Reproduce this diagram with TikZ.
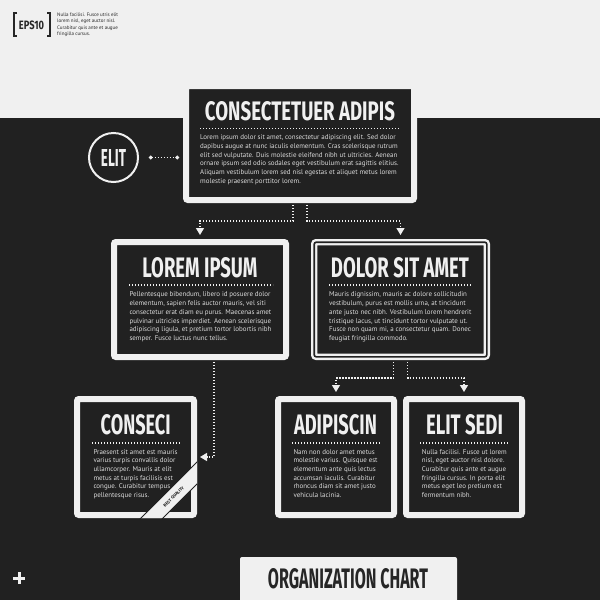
\documentclass[tikz,border=0pt]{standalone}
\usepackage{fontspec}
\usepackage{graphicx}
\setmainfont{PT Sans}
\newfontfamily\ttlfont{Fira Sans}
\usetikzlibrary{arrows.meta}
\definecolor{dk}{HTML}{212121}
\definecolor{lt}{HTML}{F0F0F0}
\definecolor{txt}{HTML}{DCDCDC}
\definecolor{gr}{HTML}{262626}
\newcommand\Ttl[3]{\resizebox{#1pt}{#2pt}{\ttlfont\bfseries #3}}
\begin{document}
\begin{tikzpicture}[x=1pt,y=-1pt,
  box/.style={draw=lt, fill=dk, line width=6pt, rounded corners=2pt, inner sep=0pt},
  dbox/.style={draw=lt, fill=dk, line width=2.4pt, double=dk, double distance=1.6pt, outer sep=3.2pt, rounded corners=2pt, inner sep=0pt},
  ttl/.style={inner sep=0pt, text=lt},
  body/.style={anchor=north west, align=left, inner sep=0pt, text=txt, font=\fontsize{6.95pt}{8.7pt}\selectfont},
  dots/.style={draw=lt, line width=1.3pt, dash pattern=on 1.3pt off 1.7pt},
  conn/.style={dots, shorten <=2pt, shorten >=4pt, -{Triangle[width=8pt,length=7pt]}},
]
\useasboundingbox (0,0) rectangle (600,600);
% background
\fill[lt] (0,0) rectangle (600,118);
\fill[dk] (0,118) rectangle (600,600);

% header logo
\draw[gr, line width=1.3pt] (17,13) -- (14,13) -- (14,36) -- (17,36);
\draw[gr, line width=1.3pt] (47,13) -- (50,13) -- (50,36) -- (47,36);
\node[inner sep=0pt, text=gr] (eps) at (31.5,25) {\Ttl{25}{8.6}{EPS10}};
\node[anchor=north west, align=left, inner sep=0pt, text=gr, font=\fontsize{5pt}{6.5pt}\selectfont] (hdr) at (57,12.6)
 {Nulla facilisi. Fusce utris elit\\lorem nisl, eget auctor nisl.\\Curabitur quis ante et augue\\fringilla cursus.};

% boxes
\node[box, minimum width=228pt, minimum height=114pt] (top) at (300,143) {};
\node[box, minimum width=172pt, minimum height=115pt] (lorem) at (200,299.5) {};
\node[dbox, minimum width=172.6pt, minimum height=114.6pt] (dolor) at (400.5,299.5) {};
\node[box, minimum width=117pt, minimum height=116pt] (conseci) at (135.5,457) {};
\node[box, minimum width=116pt, minimum height=116pt] (adip) at (336,457) {};
\node[box, minimum width=116pt, minimum height=116pt] (elitsedi) at (464,457) {};

% circle
\node[circle, draw=lt, line width=2pt, fill=dk, minimum size=49pt, inner sep=0pt] (elit) at (113.5,157.5) {};
\node[ttl] (elitt) at (113.5,157.5) {\Ttl{25}{17}{ELIT}};
\draw[dots, shorten <=10pt, shorten >=4pt, {Circle[length=3.6pt]}-{Circle[length=3.6pt]}] (elit.east) -- (elit.east -| top.west);

% titles
\node[ttl] (t1) at (300,111.5) {\Ttl{190}{19}{CONSECTETUER ADIPIS}};
\node[ttl] (t2) at (200,268) {\Ttl{115}{20}{LOREM IPSUM}};
\node[ttl] (t3) at (400,268) {\Ttl{138}{20}{DOLOR SIT AMET}};
\node[ttl] (t4) at (135.7,425) {\Ttl{70}{20}{CONSECI}};
\node[ttl] (t5) at (335.5,425) {\Ttl{83}{20}{ADIPISCIN}};
\node[ttl] (t6) at (464.5,425) {\Ttl{77}{20}{ELIT SEDI}};

% title separators
\draw[dots] (200,128.3) -- (400.7,128.3);
\draw[dots] (129,285) -- (273,285);
\draw[dots] (329,285) -- (472,285);
\draw[dots] (92,443) -- (180,443);
\draw[dots] (292,443) -- (380,443);
\draw[dots] (420,443) -- (508,443);

% body texts
\node[body] (b1) at (200,134.5) {Lorem ipsum dolor sit amet, consectetur adipiscing elit. Sed dolor\\dapibus augue at nunc iaculis elementum. Cras scelerisque rutrum\\elit sed vulputate. Duis molestie eleifend nibh ut ultricies. Aenean\\ornare ipsum sed odio sodales eget vestibulum erat sagittis elitius.\\Aliquam vestibulum lorem sed nisl egestas et aliquet metus lorem\\molestie praesent porttitor lorem.};
\node[body] (b2) at (129.3,291.8) {Pellentesque bibendum, libero id posuere dolor\\elementum, sapien felis auctor mauris, vel siti\\consectetur erat diam eu purus. Maecenas amet\\pulvinar ultricies imperdiet. Aenean scelerisque\\adipiscing ligula, et pretium tortor lobortis nibh\\semper. Fusce luctus nunc tellus.};
\node[body] (b3) at (329,291.8) {Mauris dignissim, mauris ac dolore sollicitudin\\vestibulum, purus est mollis urna, at tincidunt\\ante justo nec nibh. Vestibulum lorem hendrerit\\tristique lacus, ut tincidunt tortor vulputate ut.\\Fusce non quam mi, a consectetur quam. Donec\\feugiat fringilla commodo.};
\node[body] (b4) at (93.3,449) {Praesent sit amet est mauris\\varius turpis convallis dolor\\ullamcorper. Mauris at elit\\metus at turpis facilisis est\\congue. Curabitur tempus\\pellentesque risus.};
\node[body] (b5) at (293.3,449) {Nam non dolor amet metus\\molestie varius. Quisque est\\elementum ante quis lectus\\accumsan iaculis. Curabitur\\rhoncus diam sit amet justo\\vehicula lacinia.};
\node[body] (b6) at (421.7,449) {Nulla facilisi. Fusce ut lorem\\nisl, eget auctor nisl dolore.\\Curabitur quis ante et augue\\fringilla cursus. In porta elit\\metus eget leo pretium est\\fermentum nibh.};

% ribbon
\begin{scope}
\clip (74,396) rectangle (197,518);
\fill[lt] (197,462) -- (141,518) -- (163,518) -- (197,484) -- cycle;
\draw[dk, line width=0.8pt] (209,450) -- (129,530);
\draw[dk, line width=0.8pt] (209,472) -- (151,530);
\end{scope}
\node[rotate=45, inner sep=0pt, text=dk, font=\ttlfont\bfseries\fontsize{4.3pt}{4.3pt}\selectfont] (bq) at (174,497) {BEST QUALITY};

% connectors
\draw[conn] ([xshift=-7pt]top.south) -- ++(0,18) -| (lorem.north);
\draw[conn] ([xshift=7pt]top.south) -- ++(0,18) -| (dolor.north);
\draw[conn] ([xshift=-7pt]dolor.south) -- ++(0,18) -| (adip.north);
\draw[conn] ([xshift=7pt]dolor.south) -- ++(0,18) -| (elitsedi.north);
\draw[dots, shorten <=2pt, shorten >=3pt, -{Triangle[width=8pt,length=7pt]}] ([xshift=14pt]lorem.south) |- (conseci.east);

% plus
\draw[lt, line width=3pt] (13,578) -- (25,578) (19,572) -- (19,584);

% organization chart label
\node[fill=lt, rounded corners=2pt, minimum width=217pt, minimum height=48pt, inner sep=0pt] (org) at (348.5,581) {};
\node[inner sep=0pt, text=gr] (orgt) at (348,578.5) {\Ttl{160}{20}{ORGANIZATION CHART}};
\end{tikzpicture}
\end{document}
